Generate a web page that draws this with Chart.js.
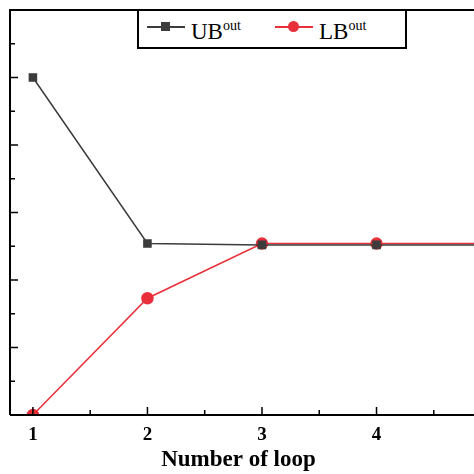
<!DOCTYPE html>
<html><head><meta charset="utf-8">
<script src="https://cdn.jsdelivr.net/npm/chart.js@4"></script>
<style>
html,body{margin:0;padding:0;background:#fff;overflow:hidden}
#wrap{position:relative;width:474px;height:474px}
#leg{position:absolute;left:137px;top:9px;width:266px;height:36px;border:2px solid #000;background:#fff;font-family:"Liberation Serif",serif;font-size:23px;color:#000}
.it{position:absolute;top:0px;height:30px;line-height:30px}
.ln{position:absolute;top:15px;height:2px}
sup{font-size:14px;vertical-align:9px}
</style></head><body>
<div id="wrap"><canvas id="c" width="474" height="474"></canvas>
<div id="leg">
 <div class="ln" style="left:8px;width:38px;background:#3c3c3c"></div>
 <div style="position:absolute;left:22px;top:11px;width:9px;height:9px;background:#3c3c3c"></div>
 <div class="it" style="left:52px">UB<sup>out</sup></div>
 <div class="ln" style="left:136px;width:38px;background:#e8303a"></div>
 <div style="position:absolute;left:149px;top:10px;width:11px;height:11px;border-radius:50%;background:#e8303a"></div>
 <div class="it" style="left:180px">LB<sup>out</sup></div>
</div></div>
<script>
const loops=[1,2,3,4,5];
const ub=[5.0,2.54,2.52,2.52,2.52];
const lb=[0.0,1.73,2.54,2.54,2.54];
const yMajor=[0,1,2,3,4,5,6];
const frame={id:'frame',afterDraw(ch){const c=ch.ctx,a=ch.chartArea,x=ch.scales.x,y=ch.scales.y;c.save();c.strokeStyle='#000';c.lineWidth=2;
c.beginPath();c.moveTo(a.left,a.bottom);c.lineTo(a.left,a.top);c.lineTo(a.right+10,a.top);c.moveTo(a.left,a.bottom);c.lineTo(a.right+10,a.bottom);c.stroke();
c.lineWidth=1.5;c.beginPath();
for(let v=0;v<=6;v+=0.5){const p=y.getPixelForValue(v);const L=(v%1===0)?8:5;c.moveTo(a.left,p);c.lineTo(a.left+L,p);}
for(let v=1;v<=5;v+=0.5){const p=x.getPixelForValue(v);if(p>a.right)continue;const L=(v%1===0)?8:5;c.moveTo(p,a.bottom);c.lineTo(p,a.bottom-L);}
c.stroke();c.restore();}};
new Chart(document.getElementById('c'),{type:'line',
data:{datasets:[
{label:'UB',data:loops.map((l,i)=>({x:l,y:ub[i]})),borderColor:'#3c3c3c',backgroundColor:'#3c3c3c',borderWidth:1.5,pointStyle:'rect',pointRadius:5,pointHoverRadius:5,clip:{left:0,top:0,bottom:0,right:10}},
{label:'LB',data:loops.map((l,i)=>({x:l,y:lb[i]})),borderColor:'#e8303a',backgroundColor:'#e8303a',borderWidth:1.5,pointStyle:'circle',pointRadius:5.5,pointHoverRadius:5.5,clip:{left:0,top:0,bottom:0,right:10}}]},
options:{responsive:false,animation:false,layout:{padding:{left:10,top:10,right:0,bottom:0}},
plugins:{legend:{display:false},tooltip:{enabled:false}},
scales:{
x:{type:'linear',min:0.8,max:4.79,grid:{display:false},border:{display:false},
 afterBuildTicks(s){s.ticks=loops.filter(v=>v<=4.79).map(v=>({value:v}));},
 afterFit(s){s.height=59;},
 ticks:{color:'#000',padding:1,font:{family:'Liberation Serif',size:19,weight:'bold'},maxRotation:0},
 title:{display:true,text:'Number of loop',color:'#000',padding:{top:2,bottom:0},font:{family:'Liberation Serif',size:23,weight:'bold'}}},
y:{min:0,max:6,display:false,afterBuildTicks(s){s.ticks=yMajor.map(v=>({value:v}));}}}},
plugins:[frame]});
</script></body></html>
